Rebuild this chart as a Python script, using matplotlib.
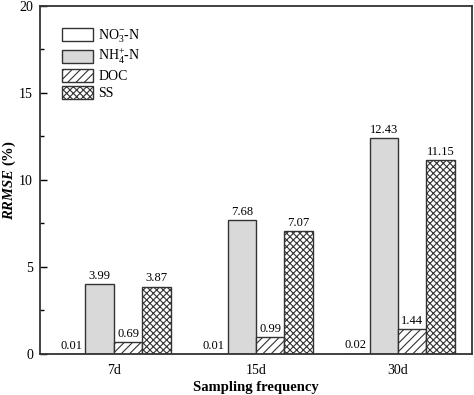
import numpy as np
import matplotlib
matplotlib.use("Agg")
import matplotlib.pyplot as plt

plt.rcParams['font.family'] = ['Liberation Serif', 'DejaVu Serif']
plt.rcParams['mathtext.fontset'] = 'custom'
plt.rcParams['mathtext.rm'] = 'Liberation Serif'
plt.rcParams['mathtext.it'] = 'Liberation Serif:italic'
plt.rcParams['mathtext.bf'] = 'Liberation Serif:bold'
plt.rcParams['mathtext.bfit'] = 'Liberation Serif:italic:bold'
plt.rcParams['hatch.linewidth'] = 0.8

# data
groups = ["7d", "15d", "30d"]
no3 = [0.01, 0.01, 0.02]
nh4 = [3.99, 7.68, 12.43]
doc = [0.69, 0.99, 1.44]
ss = [3.87, 7.07, 11.15]
series_names = ["NO$_3^{-}$-N", "NH$_4^{+}$-N", "DOC", "SS"]

series = [no3, nh4, doc, ss]
fills = ["white", "#d9d9d9", "white", "white"]
hatches = [None, None, "////", "xxxxx"]
offsets = [-0.3, -0.1, 0.1, 0.3]
width = 0.2
edge = "#333333"

fig = plt.figure(figsize=(4.74, 3.95), dpi=100)
ax = fig.add_axes([0.0844, 0.104, 0.911, 0.881])

x = np.arange(len(groups))
for vals, fc, h, off, name in zip(series, fills, hatches, offsets, series_names):
    bars = ax.bar(x + off, vals, width, color=fc, edgecolor=edge, hatch=h,
                  linewidth=1.0, label=name)
    for b, v in zip(bars, vals):
        ax.text(b.get_x() + b.get_width() / 2, v + 0.12, "%.2f" % v,
                ha="center", va="bottom", fontsize=9)

ax.set_xlim(-0.52, 2.52)
ax.set_ylim(0, 20)
ax.set_xticks(x)
ax.set_xticklabels(groups, fontsize=10)
ax.set_yticks([0, 5, 10, 15, 20])
ax.set_yticks([2.5, 7.5, 12.5, 17.5], minor=True)
ax.tick_params(axis="y", which="major", direction="in", length=5, labelsize=10, width=1, pad=5)
ax.tick_params(axis="y", which="minor", direction="in", length=3, width=1)
ax.tick_params(axis="x", direction="in", length=0, labelsize=10, pad=7)
for s in ax.spines.values():
    s.set_linewidth(1.3)
    s.set_color("#333333")

ax.set_xlabel("Sampling frequency", fontsize=10.5, fontweight="bold", labelpad=3)
ax.set_ylabel(r"$\mathbfit{RRMSE}$ (%)", fontsize=10.5, fontweight="bold", labelpad=1)

ax.legend(loc="upper left", bbox_to_anchor=(0.038, 0.955), frameon=False,
          fontsize=10, handlelength=2.2, handleheight=1.05, labelspacing=0.2,
          handletextpad=0.4, borderaxespad=0)

plt.savefig("out.png", dpi=100)
